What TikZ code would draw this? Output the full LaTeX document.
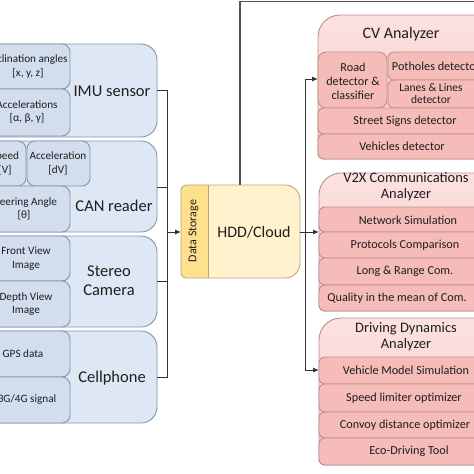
\documentclass[tikz,border=0pt]{standalone}
\usepackage{fontspec}
\setmainfont{Carlito}
\usetikzlibrary{arrows.meta}
\definecolor{bluefill}{HTML}{DEE8F4}
\definecolor{blueinner}{HTML}{D2DDEE}
\definecolor{blueline}{HTML}{8595AC}
\definecolor{yelfill}{HTML}{FFF2CC}
\definecolor{yelstrip}{HTML}{FFE08C}
\definecolor{yelline}{HTML}{B9A877}
\definecolor{pinktop}{HTML}{FBE2E0}
\definecolor{pinkbot}{HTML}{F7CAC8}
\definecolor{pinkrow}{HTML}{F5BCB9}
\definecolor{pinkline}{HTML}{C08F8D}
\definecolor{conn}{HTML}{333333}
\definecolor{txt}{HTML}{1E1E1E}
\tikzset{
  outerL/.style={draw=blueline, fill=bluefill, line width=0.9pt, rounded corners=16pt},
  innerL/.style={draw=blueline, fill=blueinner, line width=0.9pt, rounded corners=8pt},
  pinkouter/.style={draw=pinkline, line width=0.9pt, top color=pinktop, bottom color=pinkbot},
  pinkrowbox/.style={draw=pinkline, fill=pinkrow, line width=0.9pt, rounded corners=6pt},
  bigL/.style={font=\fontsize{16.5}{19}\selectfont, text=txt, align=center, inner sep=0pt},
  smallL/.style={font=\fontsize{11.2}{13.5}\selectfont, text=txt, align=center, inner sep=0pt},
  titleR/.style={font=\fontsize{16}{16}\selectfont, text=txt, align=center, inner sep=0pt},
  titleRR/.style={font=\fontsize{14.5}{15.5}\selectfont, text=txt, align=center, inner sep=0pt},
  rowR/.style={font=\fontsize{12.2}{14}\selectfont, text=txt, align=center, inner sep=0pt},
  conn/.style={draw=conn, line width=1pt},
  arr/.style={-{Latex[length=6pt,width=5pt]}}
}
\begin{document}
\begin{tikzpicture}[x=1pt,y=-1pt]
\useasboundingbox (0,0) rectangle (474,474);
\begin{scope}
\clip (0,0) rectangle (474,474);
% ---------- left groups ----------
\draw[outerL] (-40,44) rectangle (157,137);
\draw[innerL] (-40,44) rectangle (70,89);
\draw[innerL] (-40,89) rectangle (70,136);
\node[smallL] (incl) at (28,66.5) {Inclination angles\\{[x, y, z]}};
\node[smallL] (accl) at (27,112) {Accelerations\\{[α, β, γ]}};
\node[bigL] (imu) at (112,91) {IMU sensor};

\draw[outerL] (-40,141) rectangle (157,232);
\draw[innerL] (-40,141) rectangle (26,186);
\draw[innerL] (27,141) rectangle (90,186);
\draw[innerL] (-40,186) rectangle (70,232);
\node[smallL] (speed) at (5,163.5) {Speed\\{[V]}};
\node[smallL] (accel) at (58,163.5) {Acceleration\\{[dV]}};
\node[smallL] (steer) at (24,209) {Steering Angle\\{[θ]}};
\node[bigL] (can) at (114,206) {CAN reader};

\draw[outerL] (-40,236) rectangle (157,327);
\draw[innerL] (-40,236) rectangle (70,281);
\draw[innerL] (-40,281) rectangle (70,327);
\node[smallL] (front) at (26,258.5) {Front View\\Image};
\node[smallL] (depth) at (26,304) {Depth View\\Image};
\node[bigL] (stereo) at (109,281) {Stereo\\Camera};

\draw[outerL] (-40,331) rectangle (157,423);
\draw[innerL] (-40,331) rectangle (70,377);
\draw[innerL] (-40,377) rectangle (70,423);
\node[smallL] (gps) at (23,354) {GPS data};
\node[smallL] (sig) at (27,400) {3G/4G signal};
\node[bigL] (cell) at (112,378) {Cellphone};

% ---------- HDD ----------
\path[fill=yelfill] (181,232) [rounded corners=5pt] -- (181,185) [rounded corners=15pt] -- (300,185) -- (300,278) [rounded corners=5pt] -- (181,278) -- cycle;
\path[fill=yelstrip] (208,232) -- (208,185) [rounded corners=5pt] -- (181,185) -- (181,278) [sharp corners] -- (208,278) -- cycle;
\draw[draw=yelline, line width=0.9pt] (208,185) -- (208,278);
\draw[draw=yelline, line width=0.9pt] (181,232) [rounded corners=5pt] -- (181,185) [rounded corners=15pt] -- (300,185) -- (300,278) [rounded corners=5pt] -- (181,278) -- cycle;
\node[font=\fontsize{12}{13}\selectfont, text=txt, rotate=90, inner sep=0pt] (ds) at (193.5,231) {Data Storage};
\node[font=\fontsize{16}{19}\selectfont, text=txt, inner sep=0pt] (hdd) at (254,232) {HDD/Cloud};
\coordinate (hddL) at (181,232);
\coordinate (hddR) at (300,232);
\coordinate (hddT) at (240,185);

% ---------- CV Analyzer ----------
\path[pinkouter] (318,159) [rounded corners=22pt] -- (318,15) [rounded corners=6pt] -- (500,15) -- (500,159) -- cycle;
\draw[pinkrowbox, rounded corners=8pt] (318,52) rectangle (387,108);
\draw[pinkrowbox] (388,52) rectangle (500,80);
\draw[pinkrowbox] (388,80) rectangle (500,108);
\draw[pinkrowbox] (318,108) rectangle (500,134);
\draw[pinkrowbox] (318,134) rectangle (500,159);
\node[titleR] (cvt) at (401,34) {CV Analyzer};
\node[rowR] (road) at (353,81) {Road\\detector \&\\classifier};
\node[rowR] (pot) at (436,66) {Potholes detector};
\node[rowR, font=\fontsize{11.5}{12}\selectfont] (lanes) at (431,94) {Lanes \& Lines\\detector};
\node[rowR] (street) at (405,121) {Street Signs detector};
\node[rowR] (veh) at (402,146.5) {Vehicles detector};
\coordinate (cvL) at (318,79);

% ---------- V2X ----------
\path[pinkouter] (319,311) [rounded corners=22pt] -- (319,173) [rounded corners=6pt] -- (500,173) -- (500,311) -- cycle;
\draw[pinkrowbox] (319,207) rectangle (500,232);
\draw[pinkrowbox] (319,232) rectangle (500,258);
\draw[pinkrowbox] (319,258) rectangle (500,285);
\draw[pinkrowbox] (319,285) rectangle (500,311);
\node[titleRR] (v2xt) at (406,186.5) {V2X Communications\\Analyzer};
\node[rowR] (net) at (408,220) {Network Simulation};
\node[rowR] (prot) at (405,245) {Protocols Comparison};
\node[rowR] (long) at (405,271.5) {Long \& Range Com.};
\node[rowR] (qual) at (397,298) {Quality in the mean of Com.};
\coordinate (v2xL) at (319,232);

% ---------- Driving Dynamics ----------
\path[pinkouter] (319,465) [rounded corners=22pt] -- (319,318) [rounded corners=6pt] -- (500,318) -- (500,465) -- cycle;
\draw[pinkrowbox] (319,357) rectangle (500,384);
\draw[pinkrowbox] (319,384) rectangle (500,412);
\draw[pinkrowbox] (319,412) rectangle (500,438);
\draw[pinkrowbox] (319,438) rectangle (500,465);
\node[titleRR] (ddt) at (406,336.5) {Driving Dynamics\\Analyzer};
\node[rowR] (vms) at (406,370.5) {Vehicle Model Simulation};
\node[rowR] (spl) at (404,398) {Speed limiter optimizer};
\node[rowR] (cdo) at (405,425) {Convoy distance optimizer};
\node[rowR] (eco) at (409,451.5) {Eco-Driving Tool};
\coordinate (ddL) at (319,370);

% ---------- connectors ----------
\coordinate (imuR) at (157,90);
\coordinate (canR) at (157,187);
\coordinate (stR) at (157,281);
\coordinate (cellR) at (157,377);
\coordinate (busM) at (167,232);
\draw[conn] (imuR) -- ++(10,0) |- (cellR);
\draw[conn] (canR) -- ++(10,0);
\draw[conn] (stR) -- ++(10,0);
\draw[conn,arr] (busM) -- (hddL);
\coordinate (topR) at (480,1.5);
\draw[conn, line width=1.3pt, draw=conn!85] (hddT) |- (topR);
\coordinate (rbus) at (305,232);
\draw[conn,arr] (hddR) -- (v2xL);
\draw[conn,arr] (rbus) |- (cvL);
\draw[conn,arr] (rbus) |- (ddL);
\end{scope}
\end{tikzpicture}
\end{document}
